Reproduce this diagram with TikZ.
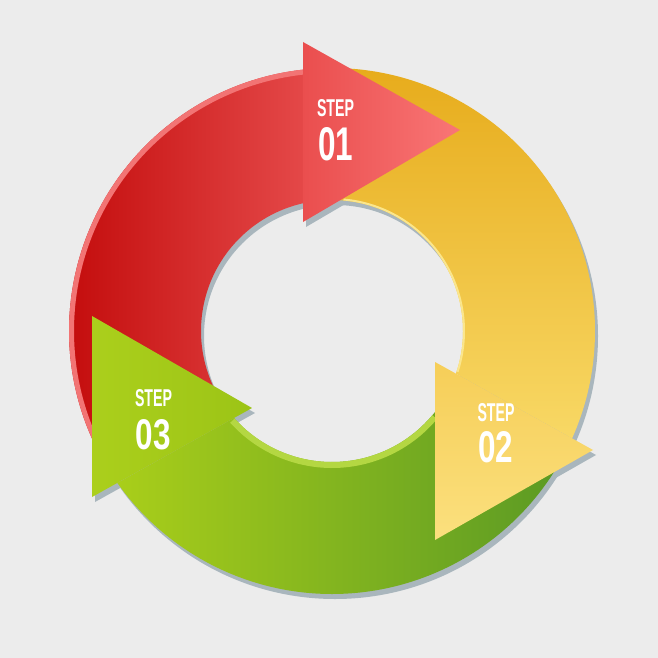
\documentclass[tikz,border=0pt]{standalone}
\usepackage{fontspec}
\setmainfont{Liberation Sans}
\usepackage{graphicx}
\definecolor{bgcol}{HTML}{ECECEC}
\definecolor{shadowcol}{HTML}{A9B6BD}
\definecolor{redL}{HTML}{C20A0A}
\definecolor{redR}{HTML}{E44848}
\definecolor{redrim}{HTML}{F27474}
\definecolor{redheadL}{HTML}{EA4E4E}
\definecolor{redheadR}{HTML}{F97676}
\definecolor{yelT}{HTML}{E7AC1C}
\definecolor{yelB}{HTML}{F8D865}
\definecolor{yelrim}{HTML}{FBE68C}
\definecolor{yelheadT}{HTML}{F6CE58}
\definecolor{yelheadB}{HTML}{FBE07E}
\definecolor{grnL}{HTML}{A9CE1A}
\definecolor{grnR}{HTML}{5B9A24}
\definecolor{grnrim}{HTML}{B4D742}
\definecolor{grnheadL}{HTML}{ABCF1C}
\definecolor{grnheadR}{HTML}{9CC416}
\begin{document}
\begin{tikzpicture}[x=1pt,y=-1pt,
  steptext/.style={text=white,inner sep=0pt,font=\bfseries},
  sh/.style={shift={(3,5)}}]
\useasboundingbox (0,0) rectangle (658,658);
\fill[bgcol] (0,0) rectangle (658,658);
\coordinate (C) at (332,331);
% arrow head corners
\coordinate (ra) at (303,42);
\coordinate (rt) at (460,130);
\coordinate (rb) at (303,222);
\coordinate (ya) at (435,362);
\coordinate (yt) at (593,450);
\coordinate (yb) at (435,540);
\coordinate (ga) at (92,316);
\coordinate (gt) at (252,408);
\coordinate (gb) at (92,497);
% shadow
\fill[shadowcol, even odd rule] ([sh]C) circle[radius=263] ([sh]C) circle[radius=131];
\fill[shadowcol] ([sh]ra) -- ([sh]rt) -- ([sh]rb) -- cycle;
\fill[shadowcol] ([sh]ya) -- ([sh]yt) -- ([sh]yb) -- cycle;
\fill[shadowcol] ([sh]ga) -- ([sh]gt) -- ([sh]gb) -- cycle;
% bodies
\begin{scope}[shift={(332,331)}]
  % red body
  \shade[left color=redL, right color=redR]
    (150:263) arc[start angle=150, end angle=263.67, radius=263]
    -- (257.21:131) arc[start angle=257.21, end angle=150, radius=131] -- cycle;
  \draw[redrim, line width=5] (150:260.5) arc[start angle=150, end angle=263.6, radius=260.5];
  % yellow body
  \shade[top color=yelT, bottom color=yelB]
    (270:263) arc[start angle=270, end angle=384.1, radius=263]
    -- (379:131) arc[start angle=379, end angle=270, radius=131] -- cycle;
  \draw[yelrim, line width=2] (275:132) arc[start angle=275, end angle=378, radius=132];
  % green body
  \shade[left color=grnL, right color=grnR]
    (30:263) arc[start angle=30, end angle=144.7, radius=263]
    -- (138.4:131) arc[start angle=138.4, end angle=30, radius=131] -- cycle;
  \draw[grnrim, line width=6] (40:134) arc[start angle=40, end angle=138, radius=134];
\end{scope}
% heads
\shade[left color=redheadL, right color=redheadR] (ra) -- (rt) -- (rb) -- cycle;
\shade[top color=yelheadT, bottom color=yelheadB] (ya) -- (yt) -- (yb) -- cycle;
\shade[left color=grnheadL, right color=grnheadR] (ga) -- (gt) -- (gb) -- cycle;
% labels
\node[steptext] (step1) at (335.5,108.5) {\resizebox{37pt}{17pt}{STEP}};
\node[steptext] (num1) at (335.5,144) {\resizebox{35pt}{33pt}{01}};
\node[steptext] (step2) at (496,412.5) {\resizebox{37pt}{18pt}{STEP}};
\node[steptext] (num2) at (495.5,447.5) {\resizebox{35pt}{31pt}{02}};
\node[steptext] (step3) at (153.5,398.5) {\resizebox{37pt}{17pt}{STEP}};
\node[steptext] (num3) at (153.5,435) {\resizebox{35pt}{30pt}{03}};
\end{tikzpicture}
\end{document}
